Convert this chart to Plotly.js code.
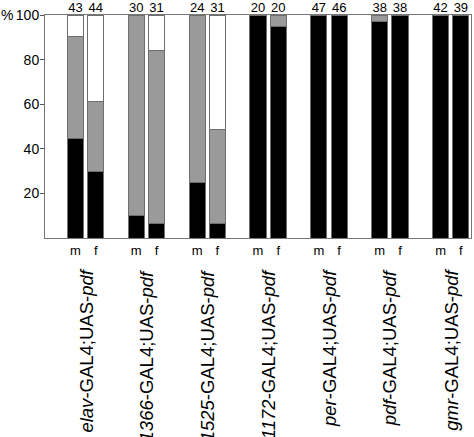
<!DOCTYPE html>
<html>
<head>
<meta charset="utf-8">
<script src="https://cdn.plot.ly/plotly-3.0.1.min.js"></script>
<style>
  html, body { margin: 0; padding: 0; background: #fff; }
  #chart { width: 474px; height: 437px; }
</style>
</head>
<body>
<div id="chart"></div>
<script>
// genotypes, one pair of bars (m, f) each
const genotypes = [
    '<i>elav</i>-GAL4;UAS-<i>pdf</i>',
    '<i>1366</i>-GAL4;UAS-<i>pdf</i>',
    '<i>1525</i>-GAL4;UAS-<i>pdf</i>',
    '<i>1172</i>-GAL4;UAS-<i>pdf</i>',
    '<i>per</i>-GAL4;UAS-<i>pdf</i>',
    '<i>pdf</i>-GAL4;UAS-<i>pdf</i>',
    '<i>gmr</i>-GAL4;UAS-<i>pdf</i>'
];
const sexes = ['m', 'f'];

// n per bar, in order m,f,m,f,...
const nFlies = [43, 44, 30, 31, 24, 31, 20, 20, 47, 46, 38, 38, 42, 39];

// % of flies in each class (bottom to top)
const blackPct = [44.5, 30, 10, 6.5, 25, 6.5, 100, 95, 100, 100, 97, 100, 100, 100];
const grayPct  = [46, 31, 90, 77.5, 75, 42, 0, 5, 0, 0, 3, 0, 0, 0];
const whitePct = [9.5, 39, 0, 16, 0, 51.5, 0, 0, 0, 0, 0, 0, 0, 0];

//helpers
const xPos = nFlies.map((_, i) => Math.floor(i / 2) * 3 + (i % 2));
const sexLabels = nFlies.map((_, i) => sexes[i % 2]);
const font = 'Liberation Sans, Arial, sans-serif';

function stack(y, color) {
    return {
        type: 'bar',
        x: xPos,
        y: y,
        width: 0.8,
        marker: { color: color, line: { color: '#6e6e6e', width: 1 } },
        hoverinfo: 'skip',
        showlegend: false
    };
}

let data = [
    stack(blackPct, '#000000'),
    stack(grayPct, '#9a9a9a'),
    stack(whitePct, '#ffffff'),
    // invisible trace so the top axis (n labels) is drawn
    { type: 'scatter', x: xPos, y: nFlies.map(() => null), xaxis: 'x2', showlegend: false, hoverinfo: 'skip' }
];

let annotations = genotypes.map((g, i) => ({
    text: g,
    x: i * 3 + 0.5,
    xref: 'x',
    y: 267,
    yref: 'paper',
    yanchor: 'top',
    textangle: -90,
    showarrow: false,
    font: { family: font, size: 18.5, color: '#000' }
}));
annotations.push({
    text: '%',
    x: 7, xref: 'paper', xanchor: 'center',
    y: 1, yref: 'paper', yanchor: 'middle',
    showarrow: false,
    font: { family: font, size: 14, color: '#000' }
});

let layout = {
    width: 474,
    height: 437,
    margin: { l: 45, r: 3, t: 15, b: 199 },
    paper_bgcolor: '#fff',
    plot_bgcolor: '#fff',
    barmode: 'stack',
    bargap: 0,
    xaxis: {
        range: [-1.5, 19.5],
        tickvals: xPos,
        ticktext: sexLabels,
        ticks: '',
        showgrid: false,
        zeroline: false,
        showline: true,
        mirror: true,
        linecolor: '#777',
        linewidth: 1,
        tickfont: { family: font, size: 13, color: '#000' }
    },
    xaxis2: {
        overlaying: 'x',
        side: 'top',
        range: [-1.5, 19.5],
        tickvals: xPos,
        ticktext: nFlies.map(String),
        ticks: '',
        showgrid: false,
        zeroline: false,
        showline: false,
        ticklabelstandoff: -1,
        tickfont: { family: font, size: 13, color: '#000' }
    },
    yaxis: {
        range: [0, 100],
        tickvals: [20, 40, 60, 80, 100],
        ticks: 'outside',
        ticklen: 4,
        tickcolor: '#555',
        ticklabelstandoff: -2,
        showgrid: false,
        zeroline: false,
        showline: true,
        mirror: true,
        linecolor: '#777',
        linewidth: 1,
        tickfont: { family: font, size: 14, color: '#000' }
    },
    annotations: annotations
};

// paper coordinates for annotations placed in pixels
const plotH = layout.height - layout.margin.t - layout.margin.b;
const plotW = layout.width - layout.margin.l - layout.margin.r;
annotations.forEach(a => {
    if (a.textangle === -90) a.y = (layout.height - layout.margin.b - a.y) / plotH;
    if (a.text === '%') a.x = (a.x - layout.margin.l) / plotW;
});

Plotly.newPlot('chart', data, layout, { staticPlot: true });
</script>
</body>
</html>
